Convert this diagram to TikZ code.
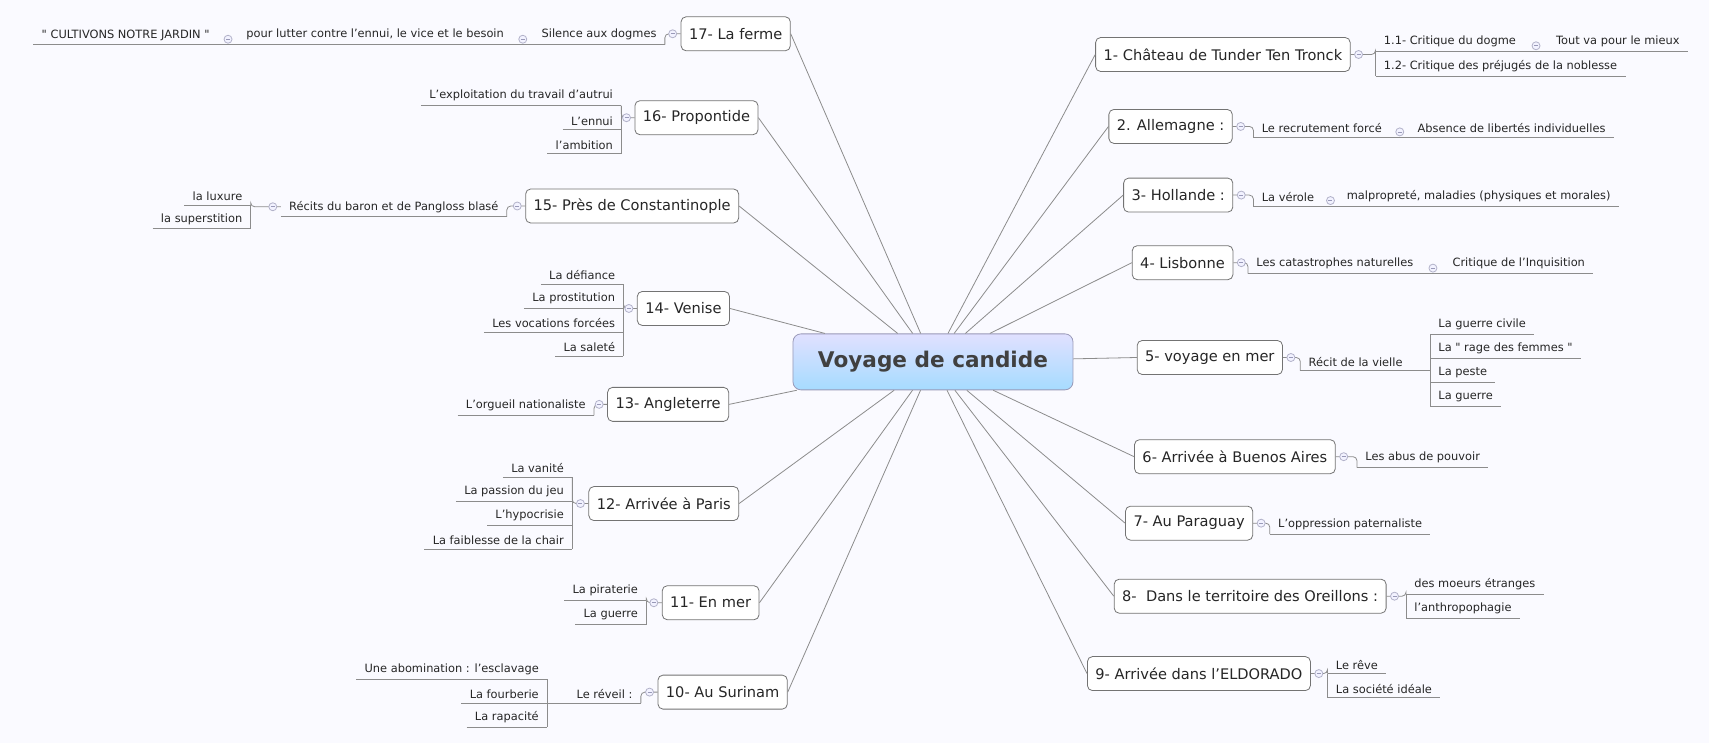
\documentclass[tikz,border=0pt]{standalone}
\usepackage{fontspec}
\setmainfont{DejaVu Sans}
\usetikzlibrary{calc}
\begin{document}
\begin{tikzpicture}[x=0.545pt,y=-0.545pt,
  topic/.style={draw=black!55,fill=white,rounded corners=2.5pt,font=\fontsize{7.3}{8}\selectfont,text=black!85,inner xsep=4pt,minimum height=17pt},
  leaf/.style={font=\fontsize{5.7}{6.5}\selectfont,text=black!85,inner xsep=4pt,inner ysep=2pt},
  conn/.style={draw=black!45,line width=0.4pt},
  ul/.style={draw=black!45,line width=0.4pt},
  tog/.style={circle,draw=blue!30!black!30,fill=blue!5,minimum size=4pt,inner sep=0pt,
    path picture={\draw[blue!30!black!40,line width=0.3pt]([xshift=-1pt]path picture bounding box.center)--([xshift=1pt]path picture bounding box.center);}}]
\fill[black!3!blue!2!white] (0,0) rectangle (1568,682);
\node[draw=blue!30!black!40,rounded corners=4pt,top color=blue!12,bottom color=blue!40!cyan!35,
  minimum width=140pt,minimum height=28pt,font=\bfseries\fontsize{10.8}{12}\selectfont,text=black!75] (C) at (856,332) {Voyage de candide};
% topics
\node[topic] (t1) at (1122,50) {1- Château de Tunder Ten Tronck};
\node[topic] (t2) at (1074,116) {2. Allemagne :};
\node[topic] (t3) at (1081,179) {3- Hollande :};
\node[topic] (t4) at (1085,241) {4- Lisbonne};
\node[topic] (t5) at (1110,328) {5- voyage en mer};
\node[topic] (t6) at (1133,419) {6- Arrivée à Buenos Aires};
\node[topic] (t7) at (1091,480) {7- Au Paraguay};
\node[topic] (t8) at (1147,547) {8-\ \ Dans le territoire des Oreillons :};
\node[topic] (t9) at (1100,618) {9- Arrivée dans l'ELDORADO};
\node[topic] (t17) at (675,31) {17- La ferme};
\node[topic] (t16) at (639,108) {16- Propontide};
\node[topic] (t15) at (580,189) {15- Près de Constantinople};
\node[topic] (t14) at (627,283) {14- Venise};
\node[topic] (t13) at (613,371) {13- Angleterre};
\node[topic] (t12) at (609,462) {12- Arrivée à Paris};
\node[topic] (t11) at (652,553) {11- En mer};
\node[topic] (t10) at (663,635) {10- Au Surinam};
\foreach \t in {t1,t2,t3,t4,t5,t6,t7,t8,t9}
  \draw[conn] (C) -- (\t.west);
\foreach \t in {t10,t11,t12,t13,t14,t15,t16,t17}
  \draw[conn] (C) -- (\t.east);
% macros
\newcommand\Rleaf[4]{\node[leaf,anchor=south west] (#1) at (#2,#3) {#4};\draw[ul] (#1.south west)--(#1.south east);}
\newcommand\Lleaf[4]{\node[leaf,anchor=south east] (#1) at (#2,#3) {#4};\draw[ul] (#1.south west)--(#1.south east);}
\newcommand\Rlink[3]{\draw[conn,rounded corners=2pt] (#1.east) -- (#1.east -| #2.south west) -- (#2.south west);\draw[conn] (#2.south west)--(#3.south west);\node[tog] at ([xshift=4pt]#1.east) {};}
\newcommand\Llink[3]{\draw[conn,rounded corners=2pt] (#1.west) -- (#1.west -| #2.south east) -- (#2.south east);\draw[conn] (#2.south east)--(#3.south east);\node[tog] at ([xshift=-4pt]#1.west) {};}
\newcommand\Rchain[2]{\draw[ul] (#1.south east)--(#2.south west);\node[tog] at ($(#1.south east)!0.5!(#2.south west)+(0,-5)$) {};}
\newcommand\Lchain[2]{\draw[ul] (#1.south west)--(#2.south east);\node[tog] at ($(#1.south west)!0.5!(#2.south east)+(0,-5)$) {};}
% right leaves
\Rleaf{a1}{1262}{47}{1.1- Critique du dogme}
\Rleaf{a1b}{1420}{47}{Tout va pour le mieux}
\Rleaf{a2}{1262}{70}{1.2- Critique des préjugés de la noblesse}
\Rlink{t1}{a1}{a2}\Rchain{a1}{a1b}
\Rleaf{b1}{1150}{126}{Le recrutement forcé}
\Rleaf{b1b}{1293}{126}{Absence de libertés individuelles}
\Rlink{t2}{b1}{b1}\Rchain{b1}{b1b}
\Rleaf{c1}{1150}{189}{La vérole}
\Rleaf{c1b}{1228}{189}{malpropreté, maladies (physiques et morales)}
\Rlink{t3}{c1}{c1}\Rchain{c1}{c1b}
\Rleaf{d1}{1145}{251}{Les catastrophes naturelles}
\Rleaf{d1b}{1325}{251}{Critique de l'Inquisition}
\Rlink{t4}{d1}{d1}\Rchain{d1}{d1b}
\Rleaf{e1}{1193}{340}{Récit de la vielle}
\Rlink{t5}{e1}{e1}
\Rleaf{e2}{1312}{307}{La guerre civile}
\Rleaf{e3}{1312}{329}{La \textquotedbl{} rage des femmes \textquotedbl}
\Rleaf{e4}{1312}{351}{La peste}
\Rleaf{e5}{1312}{373}{La guerre}
\draw[conn] (e1.south east)--(e1.south east -| e2.south west);
\draw[conn] (e2.south west)--(e5.south west);
\Rleaf{f1}{1245}{429}{Les abus de pouvoir}
\Rlink{t6}{f1}{f1}
\Rleaf{g1}{1165}{490}{L'oppression paternaliste}
\Rlink{t7}{g1}{g1}
\Rleaf{h1}{1290}{545}{des moeurs étranges}
\Rleaf{h2}{1290}{567}{l'anthropophagie}
\Rlink{t8}{h1}{h2}
\Rleaf{i1}{1218}{618}{Le rêve}
\Rleaf{i2}{1218}{640}{La société idéale}
\Rlink{t9}{i1}{i2}
% left leaves
\Lleaf{q1}{610}{41}{Silence aux dogmes}
\Lleaf{q2}{470}{41}{pour lutter contre l'ennui, le vice et le besoin}
\Lleaf{q3}{200}{41}{\textquotedbl{} CULTIVONS NOTRE JARDIN \textquotedbl}
\Llink{t17}{q1}{q1}\Lchain{q1}{q2}\Lchain{q2}{q3}
\Lleaf{p1}{570}{97}{L'exploitation du travail d'autrui}
\Lleaf{p2}{570}{119}{L'ennui}
\Lleaf{p3}{570}{141}{l'ambition}
\Llink{t16}{p1}{p3}
\Lleaf{o1}{465}{199}{Récits du baron et de Pangloss blasé}
\Llink{t15}{o1}{o1}
\Lleaf{o2}{230}{188}{la luxure}
\Lleaf{o3}{230}{210}{la superstition}
\Llink{o1}{o2}{o3}
\Lleaf{n1}{572}{261}{La défiance}
\Lleaf{n2}{572}{283}{La prostitution}
\Lleaf{n3}{572}{305}{Les vocations forcées}
\Lleaf{n4}{572}{327}{La saleté}
\Llink{t14}{n1}{n4}
\Lleaf{m1}{545}{381}{L'orgueil nationaliste}
\Llink{t13}{m1}{m1}
\Lleaf{l1}{525}{438}{La vanité}
\Lleaf{l2}{525}{460}{La passion du jeu}
\Lleaf{l3}{525}{482}{L'hypocrisie}
\Lleaf{l4}{525}{504}{La faiblesse de la chair}
\Llink{t12}{l1}{l4}
\Lleaf{k1}{593}{551}{La piraterie}
\Lleaf{k2}{593}{573}{La guerre}
\Llink{t11}{k1}{k2}
\Lleaf{j1}{588}{645}{Le réveil :}
\Llink{t10}{j1}{j1}
\Lleaf{j2}{502}{623}{Une abomination : l'esclavage}
\Lleaf{j3}{502}{645}{La fourberie}
\Lleaf{j4}{502}{667}{La rapacité}
\draw[conn] (j1.south west)--(j3.south east);
\draw[conn] (j2.south east)--(j4.south east);
\end{tikzpicture}
\end{document}
